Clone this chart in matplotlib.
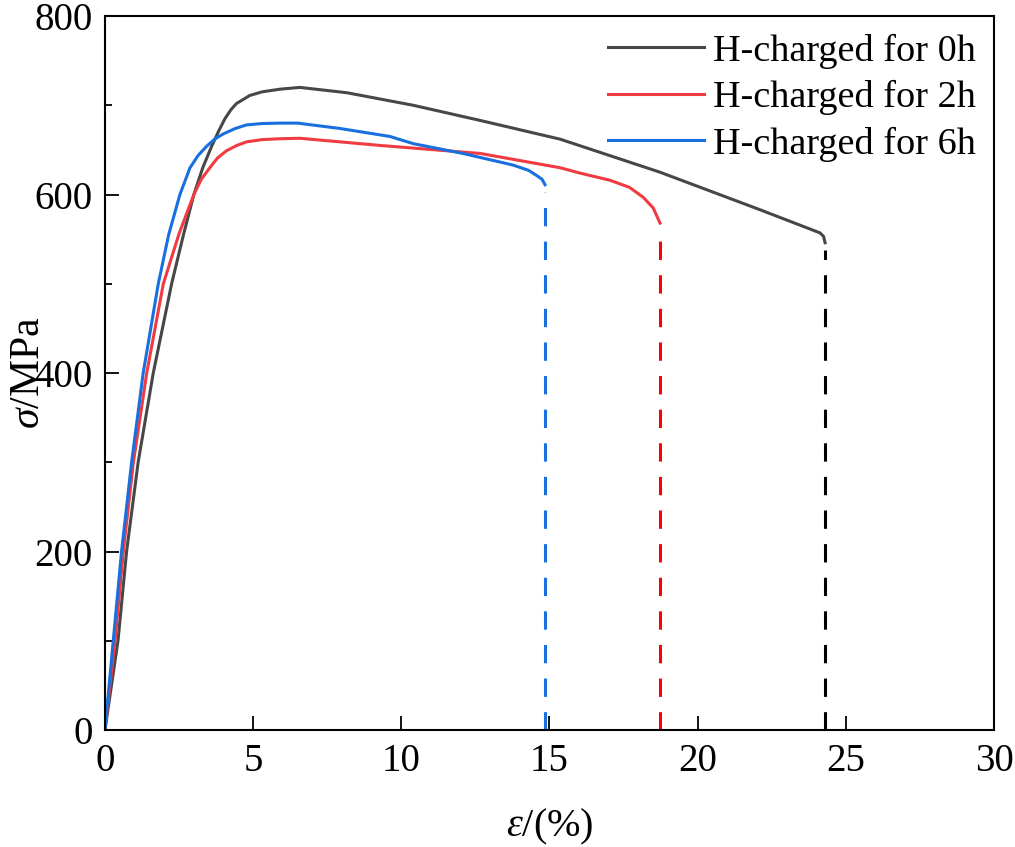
import matplotlib
matplotlib.use("Agg")
import matplotlib.pyplot as plt
from matplotlib.ticker import MultipleLocator

# ---- data (strain %, stress MPa) ----
strain_0h = [0, 0.44, 0.73, 1.12, 1.63, 2.25, 2.65, 3.0, 3.3, 3.6, 3.85, 4.05, 4.25, 4.44, 4.89, 5.3, 5.9, 6.58,
             8.17, 10.4, 12.66, 15.36, 18.73, 22.1, 24.13, 24.25, 24.3]
stress_0h = [0, 100, 200, 300, 400, 500, 555, 600, 630, 654, 672, 685, 695, 702, 711, 715, 718, 720,
             714, 700, 683, 662, 625, 583, 557, 553, 546]

strain_2h = [0, 0.34, 0.62, 0.96, 1.41, 1.97, 2.5, 3.0, 3.25, 3.54, 3.8, 4.1, 4.45, 4.78, 5.3, 5.9, 6.58,
             9.28, 12.66, 15.36, 16.03, 17.04, 17.7, 18.16, 18.5, 18.73]
stress_2h = [0, 100, 200, 300, 400, 500, 556, 600, 617, 630, 641, 649, 655, 659, 661.5, 662.5, 663,
             655, 646, 630, 624, 616, 608, 597, 585, 568]

strain_6h = [0, 0.28, 0.56, 0.9, 1.29, 1.8, 2.15, 2.53, 2.87, 3.15, 3.43, 3.7, 4.0, 4.4, 4.78, 5.3, 5.9, 6.5,
             7.93, 9.62, 10.4, 12.08, 13.77, 14.3, 14.58, 14.75, 14.85]
stress_6h = [0, 100, 200, 300, 400, 500, 555, 600, 630, 644, 654, 662, 668, 674, 678, 679.5, 680, 680,
             674, 665, 657, 646, 633, 627, 621, 617, 611]

fracture_strain = [24.3, 18.73, 14.85]
fracture_stress = [546, 568, 611]

labels = ["H-charged for 0h", "H-charged for 2h", "H-charged for 6h"]
line_colors = ["#474747", "#ef3b41", "#1a6fdf"]
dash_colors = ["#000000", "#ff0000", "#1a6fdf"]

plt.rcParams['font.family'] = ['Liberation Serif', 'DejaVu Serif']
plt.rcParams['mathtext.fontset'] = 'custom'
plt.rcParams['mathtext.rm'] = 'Liberation Serif'
plt.rcParams['mathtext.it'] = 'Liberation Serif:italic'

fig = plt.figure(figsize=(10.15, 8.47), dpi=100)
ax = fig.add_axes([0.1034, 0.1381, 0.8759, 0.843])

series = [(strain_0h, stress_0h), (strain_2h, stress_2h), (strain_6h, stress_6h)]
for (x, y), lab, c in zip(series, labels, line_colors):
    ax.plot(x, y, color=c, lw=2.2, label=lab, solid_joinstyle='round')
for fx, fy, dc in zip(fracture_strain, fracture_stress, dash_colors):
    ax.plot([fx, fx], [0, fy - 8], color=dc, lw=2.2, linestyle=(0, (6, 5)))

ax.set_xlim(0, 30)
ax.set_ylim(0, 800)
ax.xaxis.set_major_locator(MultipleLocator(5))
ax.yaxis.set_major_locator(MultipleLocator(200))
ax.yaxis.set_minor_locator(MultipleLocator(100))
ax.tick_params(axis='both', which='major', direction='in', length=10, width=1.3, labelsize=28, pad=9)
ax.tick_params(axis='y', which='minor', direction='in', length=5, width=1.3)
for s in ax.spines.values():
    s.set_linewidth(1.5)

ax.set_xlabel(r'$\varepsilon$/(%)', fontsize=29, labelpad=20)
ax.set_ylabel(r'$\sigma$/MPa', fontsize=30, labelpad=-10)

leg = ax.legend(loc='upper right', frameon=False, fontsize=27.5, handlelength=2.5,
                handletextpad=0.25, labelspacing=0.3, borderaxespad=0.0,
                bbox_to_anchor=(0.997, 0.997))

fig.savefig("out.png", dpi=100)
